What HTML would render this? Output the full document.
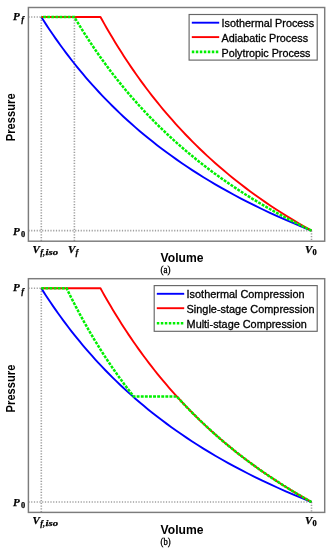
<!DOCTYPE html>
<html><head><meta charset="utf-8"><style>
html,body{margin:0;padding:0;background:#fff;width:331px;height:550px;overflow:hidden}
svg{display:block}
text{font-family:"Liberation Sans",Arial,sans-serif;fill:#000}
.ax{font-weight:bold}
.lg{stroke:#000;stroke-width:0.3px}
.m{font-family:"Liberation Serif","Times New Roman",serif;font-weight:bold;font-style:italic;stroke:#000;stroke-width:0.25px}
.cap{font-family:"Liberation Serif","Times New Roman",serif;stroke:#000;stroke-width:0.35px}
.z{font-family:"Liberation Serif","Times New Roman",serif;font-weight:bold;stroke:#000;stroke-width:0.25px}
</style></head><body>
<svg width="331" height="550" viewBox="0 0 331 550">
<rect width="331" height="550" fill="#fff"/>
<path d="M28.40,17.00 H41.30" stroke="#a0a0a0" stroke-width="1.6" stroke-dasharray="1.2 1.55" fill="none"/>
<path d="M28.40,230.60 H311.50" stroke="#a0a0a0" stroke-width="1.6" stroke-dasharray="1.2 1.55" fill="none"/>
<path d="M41.30,17.00 V241.20" stroke="#a0a0a0" stroke-width="1.6" stroke-dasharray="1.2 1.55" fill="none"/>
<path d="M311.50,230.60 V241.20" stroke="#a0a0a0" stroke-width="1.6" stroke-dasharray="1.2 1.55" fill="none"/>
<path d="M74.39,17.00 V241.20" stroke="#a0a0a0" stroke-width="1.6" stroke-dasharray="1.2 1.55" fill="none"/>
<path d="M311.50,230.60 L302.64,227.04 L294.07,223.48 L285.77,219.92 L277.73,216.36 L269.93,212.80 L262.37,209.24 L255.04,205.68 L247.92,202.12 L241.01,198.56 L234.30,195.00 L227.78,191.44 L221.43,187.88 L215.26,184.32 L209.26,180.76 L203.42,177.20 L197.73,173.64 L192.19,170.08 L186.79,166.52 L181.53,162.96 L176.40,159.40 L171.40,155.84 L166.51,152.28 L161.75,148.72 L157.10,145.16 L152.56,141.60 L148.12,138.04 L143.79,134.48 L139.55,130.92 L135.41,127.36 L131.37,123.80 L127.41,120.24 L123.53,116.68 L119.75,113.12 L116.04,109.56 L112.41,106.00 L108.85,102.44 L105.37,98.88 L101.96,95.32 L98.62,91.76 L95.34,88.20 L92.13,84.64 L88.98,81.08 L85.90,77.52 L82.87,73.96 L79.90,70.40 L76.99,66.84 L74.13,63.28 L71.32,59.72 L68.57,56.16 L65.86,52.60 L63.21,49.04 L60.60,45.48 L58.04,41.92 L55.52,38.36 L53.05,34.80 L50.62,31.24 L48.23,27.68 L45.88,24.12 L43.57,20.56 L41.30,17.00" stroke="#0000ff" stroke-width="1.9" fill="none" stroke-linejoin="round"/>
<path d="M311.50,230.60 L305.16,227.04 L298.99,223.48 L292.99,219.92 L287.15,216.36 L281.47,212.80 L275.93,209.24 L270.54,205.68 L265.28,202.12 L260.16,198.56 L255.16,195.00 L250.28,191.44 L245.51,187.88 L240.86,184.32 L236.32,180.76 L231.88,177.20 L227.54,173.64 L223.30,170.08 L219.15,166.52 L215.09,162.96 L211.12,159.40 L207.23,155.84 L203.43,152.28 L199.70,148.72 L196.05,145.16 L192.47,141.60 L188.97,138.04 L185.53,134.48 L182.16,130.92 L178.86,127.36 L175.62,123.80 L172.44,120.24 L169.32,116.68 L166.25,113.12 L163.24,109.56 L160.29,106.00 L157.39,102.44 L154.54,98.88 L151.74,95.32 L148.99,91.76 L146.29,88.20 L143.63,84.64 L141.02,81.08 L138.45,77.52 L135.93,73.96 L133.44,70.40 L131.00,66.84 L128.59,63.28 L126.22,59.72 L123.89,56.16 L121.60,52.60 L119.34,49.04 L117.12,45.48 L114.93,41.92 L112.77,38.36 L110.64,34.80 L108.55,31.24 L106.49,27.68 L104.46,24.12 L102.45,20.56 L100.48,17.00 L41.30,17.00" stroke="#ff0000" stroke-width="1.9" fill="none" stroke-linejoin="round"/>
<path d="M311.50,230.60 L304.11,227.04 L296.93,223.48 L289.97,219.92 L283.20,216.36 L276.63,212.80 L270.24,209.24 L264.02,205.68 L257.97,202.12 L252.09,198.56 L246.35,195.00 L240.77,191.44 L235.33,187.88 L230.02,184.32 L224.85,180.76 L219.80,177.20 L214.88,173.64 L210.07,170.08 L205.37,166.52 L200.79,162.96 L196.31,159.40 L191.93,155.84 L187.65,152.28 L183.46,148.72 L179.36,145.16 L175.36,141.60 L171.44,138.04 L167.60,134.48 L163.84,130.92 L160.16,127.36 L156.55,123.80 L153.02,120.24 L149.56,116.68 L146.16,113.12 L142.84,109.56 L139.57,106.00 L136.37,102.44 L133.23,98.88 L130.15,95.32 L127.12,91.76 L124.15,88.20 L121.24,84.64 L118.38,81.08 L115.56,77.52 L112.80,73.96 L110.09,70.40 L107.42,66.84 L104.80,63.28 L102.22,59.72 L99.69,56.16 L97.20,52.60 L94.75,49.04 L92.34,45.48 L89.97,41.92 L87.63,38.36 L85.34,34.80 L83.08,31.24 L80.86,27.68 L78.67,24.12 L76.51,20.56 L74.39,17.00 L41.30,17.00" stroke="#00f000" stroke-width="2.5" fill="none" stroke-dasharray="2.9 1.2"/>
<rect x="28.4" y="7.5" width="296.30" height="233.70" fill="none" stroke="#7c7c7c" stroke-width="1.45"/>
<path d="M28.40,288.30 H41.30" stroke="#a0a0a0" stroke-width="1.6" stroke-dasharray="1.2 1.55" fill="none"/>
<path d="M28.40,502.00 H311.50" stroke="#a0a0a0" stroke-width="1.6" stroke-dasharray="1.2 1.55" fill="none"/>
<path d="M41.30,288.30 V512.40" stroke="#a0a0a0" stroke-width="1.6" stroke-dasharray="1.2 1.55" fill="none"/>
<path d="M311.50,502.00 V512.40" stroke="#a0a0a0" stroke-width="1.6" stroke-dasharray="1.2 1.55" fill="none"/>
<path d="M311.50,502.00 L302.64,498.44 L294.07,494.88 L285.77,491.31 L277.73,487.75 L269.93,484.19 L262.37,480.63 L255.04,477.07 L247.92,473.51 L241.01,469.95 L234.30,466.38 L227.78,462.82 L221.43,459.26 L215.26,455.70 L209.26,452.14 L203.42,448.57 L197.73,445.01 L192.19,441.45 L186.79,437.89 L181.53,434.33 L176.40,430.77 L171.40,427.20 L166.51,423.64 L161.75,420.08 L157.10,416.52 L152.56,412.96 L148.12,409.40 L143.79,405.84 L139.55,402.27 L135.41,398.71 L131.37,395.15 L127.41,391.59 L123.53,388.03 L119.75,384.47 L116.04,380.90 L112.41,377.34 L108.85,373.78 L105.37,370.22 L101.96,366.66 L98.62,363.10 L95.34,359.53 L92.13,355.97 L88.98,352.41 L85.90,348.85 L82.87,345.29 L79.90,341.73 L76.99,338.16 L74.13,334.60 L71.32,331.04 L68.57,327.48 L65.86,323.92 L63.21,320.36 L60.60,316.79 L58.04,313.23 L55.52,309.67 L53.05,306.11 L50.62,302.55 L48.23,298.99 L45.88,295.42 L43.57,291.86 L41.30,288.30" stroke="#0000ff" stroke-width="1.9" fill="none" stroke-linejoin="round"/>
<path d="M311.50,502.00 L305.16,498.44 L298.99,494.88 L292.99,491.31 L287.15,487.75 L281.47,484.19 L275.93,480.63 L270.54,477.07 L265.28,473.51 L260.16,469.95 L255.16,466.38 L250.28,462.82 L245.51,459.26 L240.86,455.70 L236.32,452.14 L231.88,448.57 L227.54,445.01 L223.30,441.45 L219.15,437.89 L215.09,434.33 L211.12,430.77 L207.23,427.20 L203.43,423.64 L199.70,420.08 L196.05,416.52 L192.47,412.96 L188.97,409.40 L185.53,405.84 L182.16,402.27 L178.86,398.71 L175.62,395.15 L172.44,391.59 L169.32,388.03 L166.25,384.47 L163.24,380.90 L160.29,377.34 L157.39,373.78 L154.54,370.22 L151.74,366.66 L148.99,363.10 L146.29,359.53 L143.63,355.97 L141.02,352.41 L138.45,348.85 L135.93,345.29 L133.44,341.73 L131.00,338.16 L128.59,334.60 L126.22,331.04 L123.89,327.48 L121.60,323.92 L119.34,320.36 L117.12,316.79 L114.93,313.23 L112.77,309.67 L110.64,306.11 L108.55,302.55 L106.49,298.99 L104.46,295.42 L102.45,291.86 L100.48,288.30 L41.30,288.30" stroke="#ff0000" stroke-width="1.9" fill="none" stroke-linejoin="round"/>
<path d="M311.50,502.00 L308.35,500.24 L305.24,498.48 L302.17,496.73 L299.15,494.97 L296.17,493.21 L293.22,491.45 L290.32,489.70 L287.45,487.94 L284.63,486.18 L281.84,484.42 L279.08,482.67 L276.36,480.91 L273.68,479.15 L271.03,477.39 L268.41,475.63 L265.82,473.88 L263.27,472.12 L260.75,470.36 L258.26,468.60 L255.80,466.85 L253.37,465.09 L250.97,463.33 L248.59,461.57 L246.25,459.82 L243.93,458.06 L241.64,456.30 L239.38,454.54 L237.14,452.78 L234.93,451.03 L232.74,449.27 L230.57,447.51 L228.44,445.75 L226.32,444.00 L224.23,442.24 L222.16,440.48 L220.11,438.72 L218.09,436.97 L216.09,435.21 L214.11,433.45 L212.15,431.69 L210.21,429.94 L208.29,428.18 L206.39,426.42 L204.51,424.66 L202.65,422.90 L200.81,421.15 L198.99,419.39 L197.18,417.63 L195.40,415.87 L193.63,414.12 L191.88,412.36 L190.14,410.60 L188.43,408.84 L186.73,407.09 L185.05,405.33 L183.38,403.57 L181.73,401.81 L180.10,400.05 L178.48,398.30 L176.87,396.54 L133.81,396.54 L132.38,394.74 L130.96,392.93 L129.55,391.13 L128.16,389.32 L126.78,387.52 L125.42,385.72 L124.06,383.91 L122.72,382.11 L121.40,380.30 L120.08,378.50 L118.78,376.70 L117.48,374.89 L116.20,373.09 L114.93,371.28 L113.67,369.48 L112.43,367.68 L111.19,365.87 L109.97,364.07 L108.75,362.26 L107.55,360.46 L106.35,358.66 L105.17,356.85 L104.00,355.05 L102.83,353.24 L101.68,351.44 L100.53,349.64 L99.40,347.83 L98.28,346.03 L97.16,344.22 L96.05,342.42 L94.96,340.62 L93.87,338.81 L92.79,337.01 L91.72,335.20 L90.65,333.40 L89.60,331.60 L88.55,329.79 L87.52,327.99 L86.49,326.18 L85.47,324.38 L84.45,322.58 L83.45,320.77 L82.45,318.97 L81.46,317.16 L80.48,315.36 L79.50,313.56 L78.54,311.75 L77.58,309.95 L76.62,308.14 L75.68,306.34 L74.74,304.54 L73.81,302.73 L72.89,300.93 L71.97,299.12 L71.06,297.32 L70.15,295.52 L69.25,293.71 L68.36,291.91 L67.48,290.10 L66.60,288.30 L41.30,288.30" stroke="#00f000" stroke-width="2.5" fill="none" stroke-dasharray="2.9 1.2"/>
<rect x="28.4" y="278.7" width="296.30" height="233.70" fill="none" stroke="#7c7c7c" stroke-width="1.45"/>
<rect x="189.1" y="14.5" width="128.10" height="45.60" fill="#fff" stroke="#666" stroke-width="1.15"/>
<path d="M191.8,22.7 H219.2" stroke="#0000ff" stroke-width="1.9"/>
<text x="221.6" y="26.90" class="lg" font-size="10.8" textLength="92.6" lengthAdjust="spacingAndGlyphs">Isothermal Process</text>
<path d="M191.8,37.1 H219.2" stroke="#ff0000" stroke-width="1.9"/>
<text x="221.6" y="41.80" class="lg" font-size="10.8" textLength="86.5" lengthAdjust="spacingAndGlyphs">Adiabatic Process</text>
<path d="M191.8,51.9 H219.2" stroke="#00f000" stroke-width="2.6" stroke-dasharray="2.5 1.5"/>
<text x="221.6" y="56.60" class="lg" font-size="10.8" textLength="88.9" lengthAdjust="spacingAndGlyphs">Polytropic Process</text>
<rect x="154.2" y="285.6" width="163.00" height="45.70" fill="#fff" stroke="#666" stroke-width="1.15"/>
<path d="M156.8,293.8 H184.2" stroke="#0000ff" stroke-width="1.9"/>
<text x="186.6" y="298.30" class="lg" font-size="10.8" textLength="118" lengthAdjust="spacingAndGlyphs">Isothermal Compression</text>
<path d="M156.8,308.2 H184.2" stroke="#ff0000" stroke-width="1.9"/>
<text x="186.6" y="312.90" class="lg" font-size="10.8" textLength="128" lengthAdjust="spacingAndGlyphs">Single-stage Compression</text>
<path d="M156.8,323.2 H184.2" stroke="#00f000" stroke-width="2.6" stroke-dasharray="2.5 1.5"/>
<text x="186.6" y="327.80" class="lg" font-size="10.8" textLength="120.2" lengthAdjust="spacingAndGlyphs">Multi-stage Compression</text>
<text x="160.6" y="261.80" class="ax" font-size="12.6" textLength="42.8" lengthAdjust="spacingAndGlyphs">Volume</text>
<text x="160.6" y="273.10" class="cap" font-size="10" textLength="10" lengthAdjust="spacingAndGlyphs">(a)</text>
<text x="160.6" y="533.90" class="ax" font-size="12.6" textLength="42.8" lengthAdjust="spacingAndGlyphs">Volume</text>
<text x="160.6" y="545.20" class="cap" font-size="10" textLength="10" lengthAdjust="spacingAndGlyphs">(b)</text>
<text transform="translate(15.2,141.20) rotate(-90)" class="ax" font-size="12.6" textLength="47.8" lengthAdjust="spacingAndGlyphs">Pressure</text>
<text x="13.00" y="20.20" class="m" font-size="11.0">P</text>
<text x="21.30" y="22.30" class="m" font-size="8.4">f</text>
<text x="13.00" y="234.90" class="m" font-size="11.0">P</text>
<text x="21.00" y="237.00" class="z" font-size="8.4">0</text>
<text x="305.00" y="253.00" class="m" font-size="11.0">V</text>
<text x="312.60" y="254.90" class="z" font-size="8.4">0</text>
<text x="32.60" y="253.10" class="m" font-size="11.0">V</text>
<text x="40.30" y="254.80" class="m" font-size="8.4">f,</text>
<text x="45.60" y="254.80" class="m" font-size="7.9" textLength="12.4" lengthAdjust="spacingAndGlyphs">iso</text>
<text transform="translate(15.2,412.40) rotate(-90)" class="ax" font-size="12.6" textLength="47.8" lengthAdjust="spacingAndGlyphs">Pressure</text>
<text x="13.00" y="291.40" class="m" font-size="11.0">P</text>
<text x="21.30" y="293.50" class="m" font-size="8.4">f</text>
<text x="13.00" y="506.10" class="m" font-size="11.0">P</text>
<text x="21.00" y="508.20" class="z" font-size="8.4">0</text>
<text x="305.00" y="524.20" class="m" font-size="11.0">V</text>
<text x="312.60" y="526.10" class="z" font-size="8.4">0</text>
<text x="32.60" y="524.30" class="m" font-size="11.0">V</text>
<text x="40.30" y="526.00" class="m" font-size="8.4">f,</text>
<text x="45.60" y="526.00" class="m" font-size="7.9" textLength="12.4" lengthAdjust="spacingAndGlyphs">iso</text>
<text x="67.90" y="253.10" class="m" font-size="11.0">V</text>
<text x="75.50" y="255.00" class="m" font-size="8.4">f</text>
</svg>
</body></html>
